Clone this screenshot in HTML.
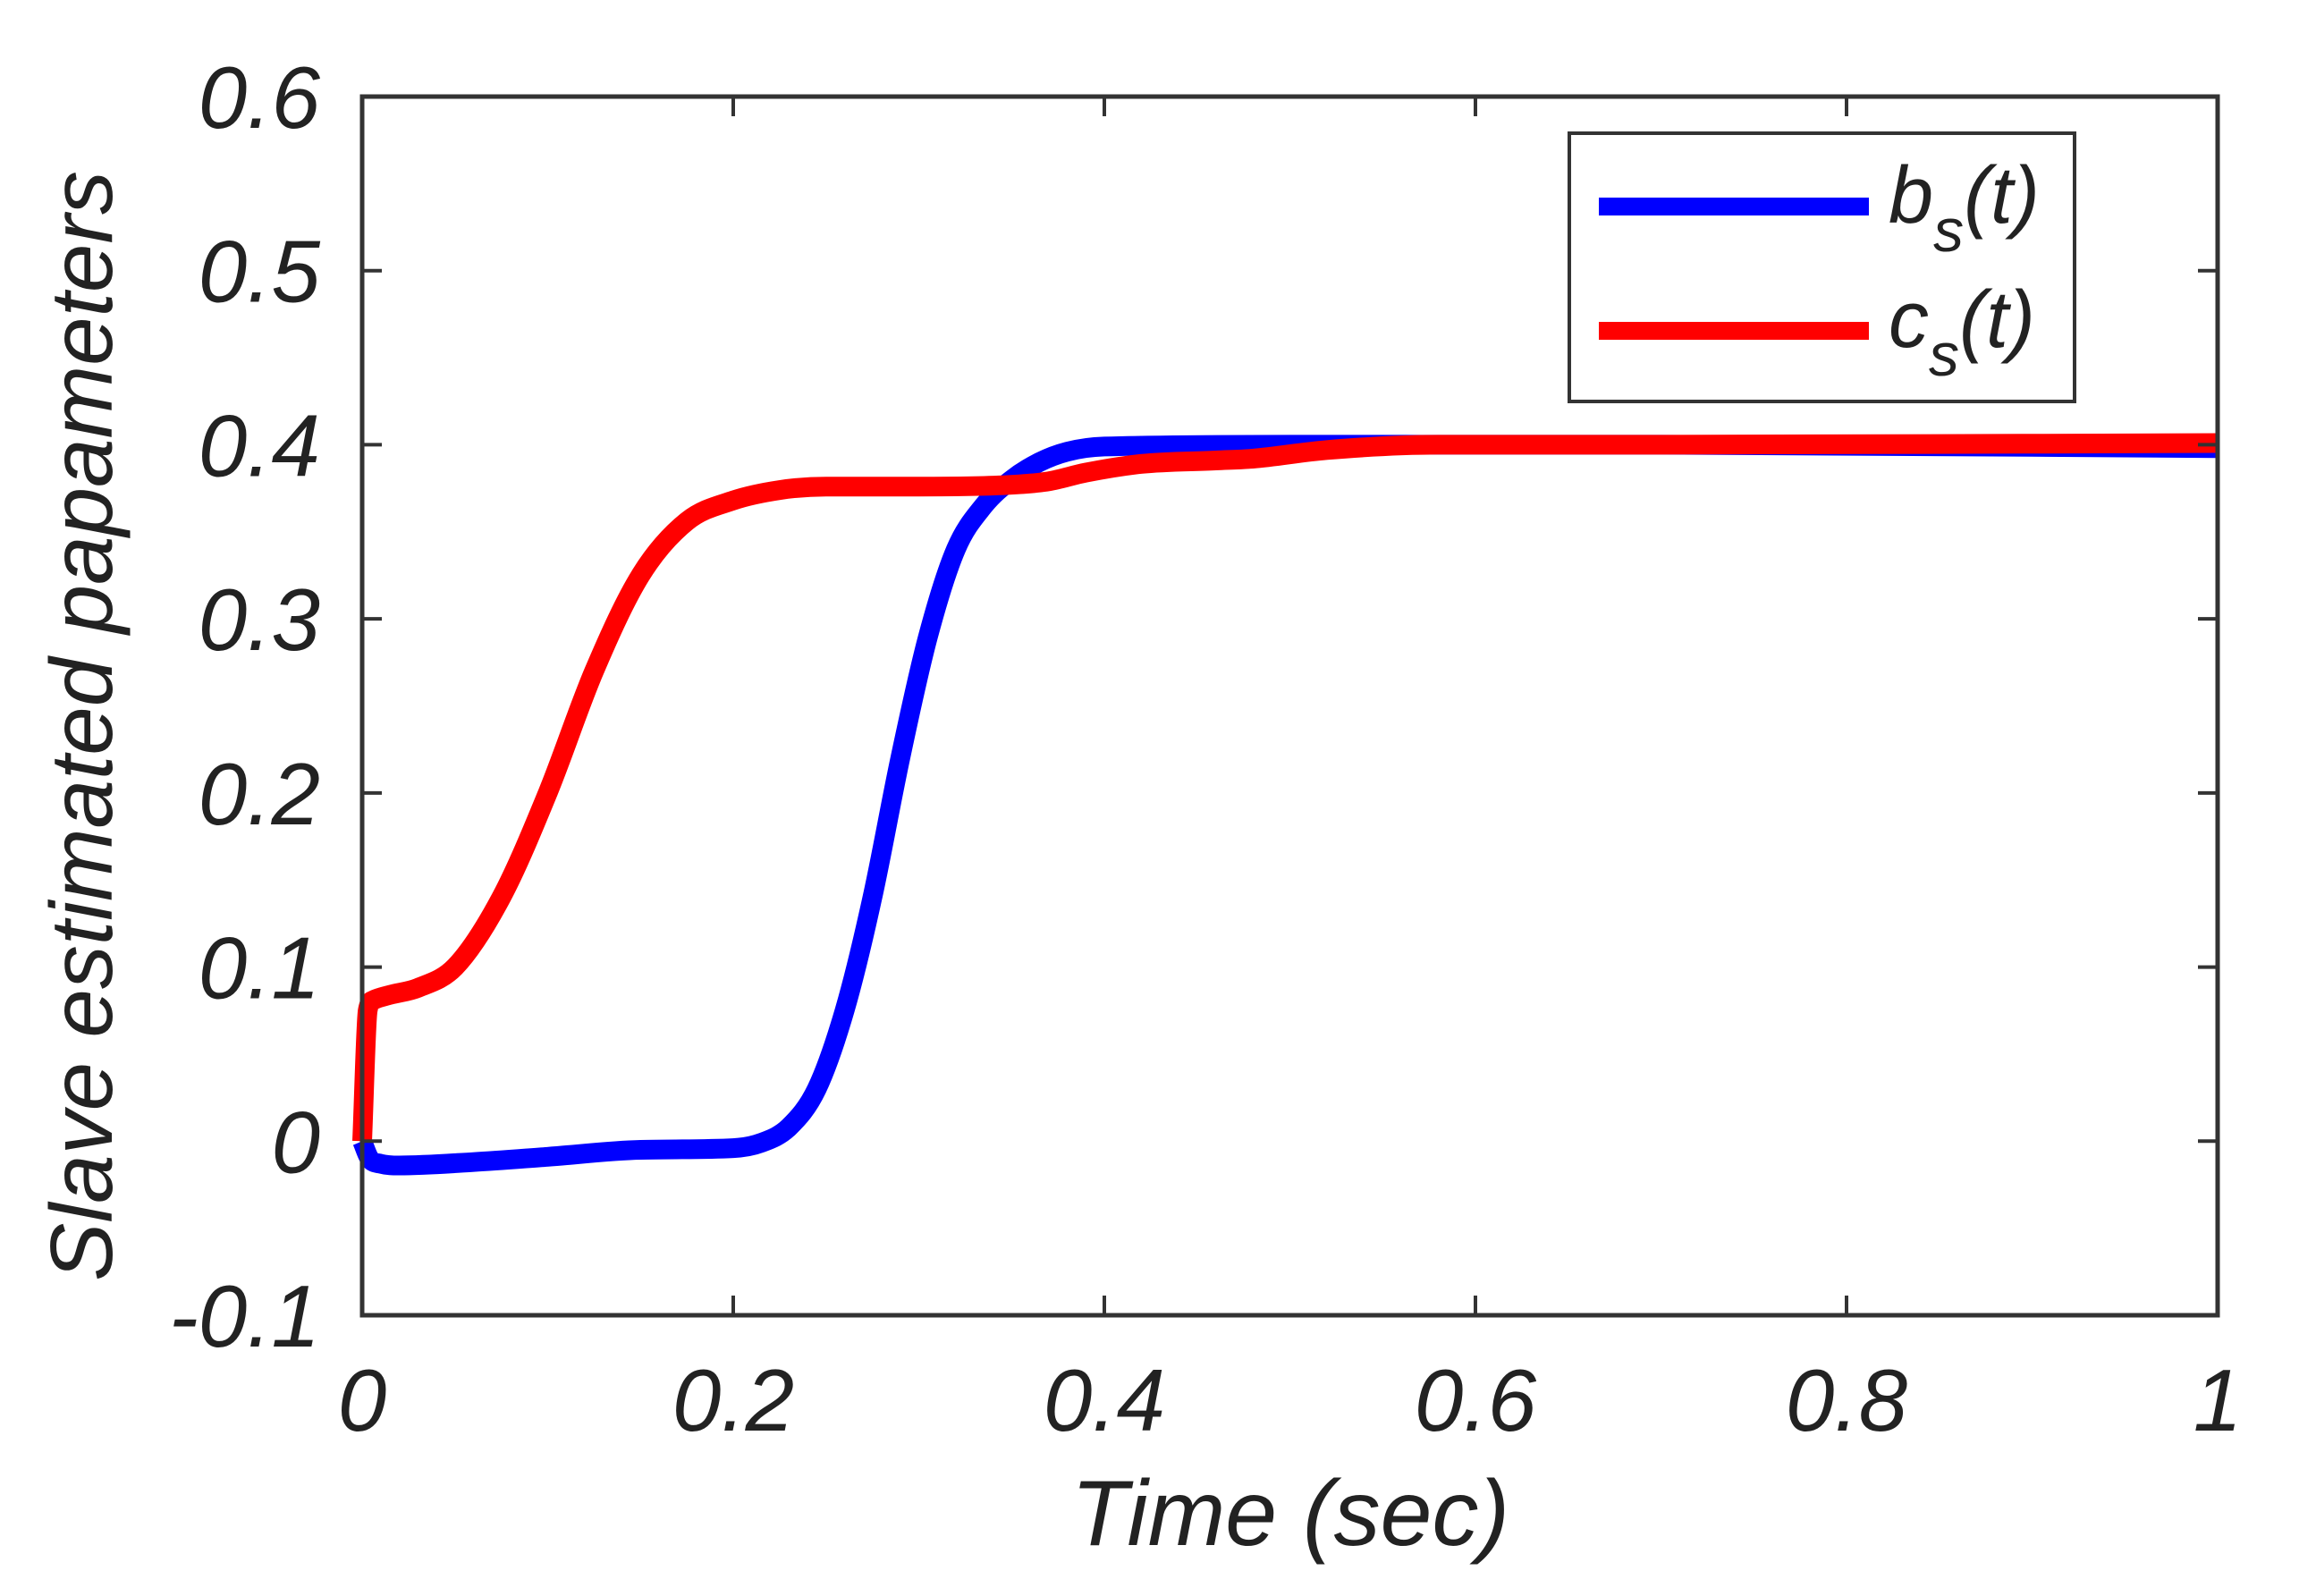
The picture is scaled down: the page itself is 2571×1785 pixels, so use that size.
<!DOCTYPE html>
<html><head><meta charset="utf-8"><style>
html,body{margin:0;padding:0;background:#fff;}
svg{display:block;}
text{font-family:"Liberation Sans",sans-serif;font-style:italic;fill:#222;}
</style></head><body>
<svg id="chart" width="2571" height="1785" viewBox="0 0 2571 1785" xmlns="http://www.w3.org/2000/svg">
<g id="plot"></g>
</svg>
<script>
const xTicks=[0,0.2,0.4,0.6,0.8,1];
const xTickLabels=["0","0.2","0.4","0.6","0.8","1"];
const yTicks=[-0.1,0,0.1,0.2,0.3,0.4,0.5,0.6];
const yTickLabels=["-0.1","0","0.1","0.2","0.3","0.4","0.5","0.6"];
const bTime=[0,0.004,0.01,0.02,0.06,0.1,0.15,0.2,0.215,0.23,0.245,0.26,0.275,0.29,0.305,0.32,0.335,0.35,0.365,0.38,0.4,0.5,0.7,1];
const bVals=[0,-0.01,-0.013,-0.014,-0.012,-0.009,-0.005,-0.004,-0.001,0.008,0.03,0.075,0.14,0.22,0.29,0.34,0.365,0.38,0.39,0.396,0.399,0.4,0.4,0.398];
const cTime=[0,0.003,0.006,0.015,0.03,0.05,0.075,0.1,0.125,0.15,0.175,0.2,0.225,0.25,0.3,0.35,0.37,0.39,0.42,0.46,0.48,0.52,0.58,0.7,1];
const cVals=[0,0.075,0.081,0.084,0.088,0.1,0.14,0.2,0.27,0.325,0.356,0.368,0.374,0.376,0.376,0.377,0.379,0.384,0.389,0.391,0.392,0.397,0.4,0.4,0.401];

const L=405,R=2480,T=108,B=1471;
const xs=v=>L+(v-0)/(1-0)*(R-L);
const ys=v=>B-(v+0.1)/0.7*(B-T);
const NS="http://www.w3.org/2000/svg";
const svg=document.getElementById('chart');
function mk(tag,attrs,parent){const e=document.createElementNS(NS,tag);for(const k in attrs)e.setAttribute(k,attrs[k]);(parent||svg).appendChild(e);return e;}
const plot=document.getElementById('plot');

function smoothPath(px,py){
  const n=px.length,m=[],d=[];
  for(let i=0;i<n-1;i++)d.push((py[i+1]-py[i])/(px[i+1]-px[i]));
  m[0]=d[0];m[n-1]=d[n-2];
  for(let i=1;i<n-1;i++){m[i]=(d[i-1]*d[i]<=0)?0:(d[i-1]+d[i])/2;}
  for(let i=0;i<n-1;i++){if(d[i]===0){m[i]=0;m[i+1]=0;continue;}const a=m[i]/d[i],b=m[i+1]/d[i],s=a*a+b*b;if(s>9){const t=3/Math.sqrt(s);m[i]=t*a*d[i];m[i+1]=t*b*d[i];}}
  let p='M'+px[0].toFixed(1)+','+py[0].toFixed(1);
  for(let i=0;i<n-1;i++){const h=(px[i+1]-px[i])/3;
    p+=' C'+(px[i]+h).toFixed(1)+','+(py[i]+m[i]*h).toFixed(1)+' '+(px[i+1]-h).toFixed(1)+','+(py[i+1]-m[i+1]*h).toFixed(1)+' '+px[i+1].toFixed(1)+','+py[i+1].toFixed(1);}
  return p;
}
function series(t,v,color,name){
  const d=smoothPath(t.map(xs),v.map(ys));
  const p=mk('path',{d:d,fill:'none',stroke:color,'stroke-width':22,'stroke-linejoin':'round','stroke-linecap':'butt'},plot);
  
  
}
series(bTime,bVals,'#0000ff','series-b-s');
series(cTime,cVals,'#ff0000','series-c-s');

const box=mk('rect',{x:L,y:T,width:R-L,height:B-T,fill:'none',stroke:'#333','stroke-width':5});



xTicks.forEach((v,i)=>{
  const x=xs(v);
  mk('line',{x1:x,y1:B,x2:x,y2:B-22,stroke:'#333','stroke-width':4});
  mk('line',{x1:x,y1:T,x2:x,y2:T+22,stroke:'#333','stroke-width':4});
  const t=mk('text',{x:x,y:1600,'text-anchor':'middle','font-size':98});
  t.textContent=xTickLabels[i];
  
  
});
yTicks.forEach((v,i)=>{
  const y=ys(v);
  mk('line',{x1:L,y1:y,x2:L+22,y2:y,stroke:'#333','stroke-width':4});
  mk('line',{x1:R,y1:y,x2:R-22,y2:y,stroke:'#333','stroke-width':4});
  const t=mk('text',{x:358,y:y+35,'text-anchor':'end','font-size':98});
  t.textContent=yTickLabels[i];
  
  
});
const xt=mk('text',{x:1443,y:1728,'text-anchor':'middle','font-size':104});
xt.textContent='Time (sec)';


const yt=mk('text',{x:0,y:0,'text-anchor':'middle','font-size':98,transform:'translate(125,812) rotate(-90)'});
yt.textContent='Slave estimated papameters';



const lg=mk('g',{});


mk('rect',{x:1755,y:149,width:565,height:300,fill:'#fff',stroke:'#333','stroke-width':4},lg);
[['#0000ff','b','legend-entry-b',231],['#ff0000','c','legend-entry-c',370]].forEach(e=>{
  const g=mk('g',{},lg);
  
  
  mk('line',{x1:1788,y1:e[3],x2:2090,y2:e[3],stroke:e[0],'stroke-width':20},g);
  const t=mk('text',{x:2112,y:e[3]+18,'font-size':90},g);
  t.innerHTML=e[1]+'<tspan dy="32" font-size="68">s</tspan><tspan dy="-32">(t)</tspan>';
});
</script>
</body></html>
